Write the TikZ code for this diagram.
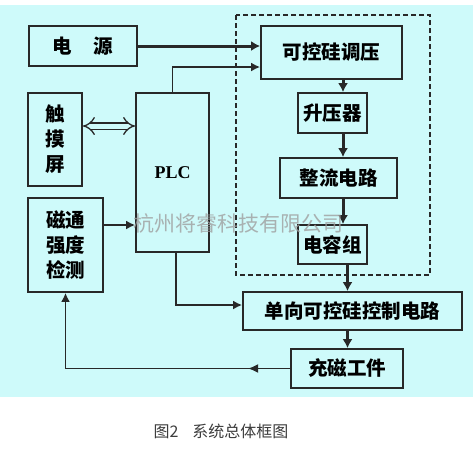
\documentclass[tikz,border=0pt]{standalone}
\usepackage{fontspec}
\setmainfont{Liberation Serif}
\newfontfamily\cjk{Noto Sans CJK SC}
\usetikzlibrary{arrows.meta,decorations.markings}

\definecolor{bgcyan}{RGB}{206,250,250}
\definecolor{edge}{RGB}{40,40,40}

\begin{document}
\begin{tikzpicture}[x=1pt,y=-1pt]
\pgfmathsetmacro{\xCol}{343}

\tikzstyle{blk}=[draw=edge,line width=1.8pt,inner sep=0pt,align=center,font=\cjk\bfseries\fontsize{19.5}{25}\selectfont]
\tikzstyle{thk}=[draw=edge,line width=3pt,-{Latex[length=9pt,width=10pt]}]
\tikzstyle{thn}=[draw=edge,line width=1.7pt,-{Latex[length=9pt,width=9pt]}]
\tikzstyle{dbl}=[draw=edge,double=bgcyan,double distance=5pt,line width=1.3pt,{Implies[length=7pt]}-{Implies[length=7pt]}]
\tikzstyle{midarrow}=[postaction={decorate},decoration={markings,mark=at position 0.14 with {\arrow{Latex[length=10pt,width=9pt]}}}]
\fill[white] (0,0) rectangle (473,451);
\useasboundingbox (0,0) rectangle (473,451);
\fill[bgcyan] (0,5) rectangle (473,397);

% left column
\node[blk,minimum width=108pt,minimum height=40pt] (psu) at (83,46) {电\hspace{22pt}源};
\node[blk,minimum width=54pt,minimum height=93pt] (touch) at (55,139.5) {触\\摸\\屏};
\node[blk,minimum width=73pt,minimum height=159pt,font=\bfseries\fontsize{18}{20}\selectfont] (plc) at (172.5,172.5) {PLC};
\node[blk,minimum width=75pt,minimum height=94pt] (flux) at (65.5,245) {磁通\\强度\\检测};

% power stage
\draw[draw=edge,line width=1.6pt,dash pattern=on 5pt off 3pt] (236,15) rectangle (430,275);
\node[blk,minimum width=141pt,minimum height=53pt] (scr) at (331.5,52.5) {可控硅调压};
\node[blk,minimum width=69pt,minimum height=40pt] (boost) at (332.5,113) {升压器};
\node[blk,minimum width=117pt,minimum height=40pt] (rect) at (338.5,178) {整流电路};
\node[blk,minimum width=69pt,minimum height=39pt] (cap) at (332.5,244.5) {电容组};
\node[blk,minimum width=219pt,minimum height=38pt] (ctrl) at (352.5,311) {单向可控硅控制电路};
\node[blk,minimum width=112pt,minimum height=39pt] (work) at (347,368.5) {充磁工件};
\coordinate (col) at (\xCol,0);
\coordinate (col2) at (\xCol+4.5,0);

% connectors
\draw[thk] (psu.east) -- (psu.east -| scr.west);
\draw[thn] (plc.north) |- ([yshift=-14.5pt]scr.west);
\draw[dbl] ([yshift=13.5pt]touch.east) -- ([yshift=13.5pt]touch.east -| plc.west);
\draw[thn] ([yshift=20pt]flux.east) -- ([yshift=20pt]flux.east -| plc.west);
\draw[thn] ([xshift=3.5pt]plc.south) |- ([yshift=6pt]ctrl.west);
\draw[thk] (scr.south -| col) -- (boost.north -| col);
\draw[thk] (boost.south -| col) -- (rect.north -| col);
\draw[thk] (rect.south -| col) -- (cap.north -| col);
\draw[thk] (cap.south -| col2) -- (ctrl.north -| col2);
\draw[thk] (ctrl.south -| col2) -- (work.north -| col2);
\draw[thn,midarrow] (work.west) -| (flux.south);

% watermark and caption
\node[text=gray!75,opacity=0.8,font=\cjk\fontsize{21}{23}\selectfont] (mark) at (238,223) {杭州将睿科技有限公司};
\node[text=edge!90,font=\cjk\fontsize{16}{18}\selectfont] (cap2) at (221,431) {图2\hspace{14pt}系统总体框图};
\end{tikzpicture}
\end{document}
